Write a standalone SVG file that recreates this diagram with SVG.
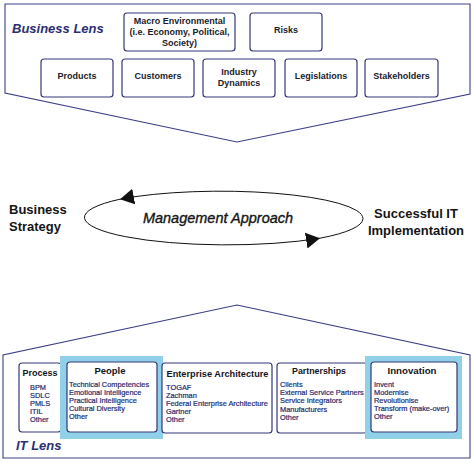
<svg xmlns="http://www.w3.org/2000/svg" width="474" height="463" viewBox="0 0 474 463">
<defs>
<style>
.lens{fill:#fff;stroke:#3b3f86;stroke-width:1.1}
.box{fill:#fff;stroke:#353877;stroke-width:1.2}
.hl{fill:#90d1e9}
.lbl{font-family:"Liberation Sans",Arial,sans-serif;font-size:9px;font-weight:bold;fill:#1b1b2a;text-anchor:middle}
.ttl{font-family:"Liberation Sans",Arial,sans-serif;font-size:9.5px;font-weight:bold;fill:#141420;text-anchor:middle}
.item{font-family:"Liberation Sans",Arial,sans-serif;font-size:7.4px;fill:#1f2a6e;stroke:#1f2a6e;stroke-width:0.2}
.lensname{font-family:"Liberation Sans",Arial,sans-serif;font-size:13px;font-weight:bold;font-style:italic;fill:#2c2f72}
.side{font-family:"Liberation Sans",Arial,sans-serif;font-size:13px;font-weight:bold;fill:#151515}
.mgmt{font-family:"Liberation Sans",Arial,sans-serif;font-size:14.5px;font-style:italic;fill:#151515;stroke:#151515;stroke-width:0.35;text-anchor:middle}
.conn{fill:none;stroke:#111;stroke-width:1}
</style>
<marker id="arr" markerUnits="userSpaceOnUse" markerWidth="15" markerHeight="17" refX="14" refY="8" orient="auto">
<path d="M0,0 L14,8 L0,16 z" fill="#111"/>
</marker>
</defs>
<rect width="474" height="463" fill="#fff"/>

<g id="business-lens">
<polygon class="lens" points="5,4 470,4 470,94 237,142 5,93"/>
<text class="lensname" x="12" y="33">Business Lens</text>
</g>

<g id="macro">
<rect class="box" x="124" y="13" width="111" height="38" rx="3"/>
<text class="lbl" x="179.5" y="24">Macro Environmental</text>
<text class="lbl" x="179.5" y="35">(i.e. Economy, Political,</text>
<text class="lbl" x="179.5" y="46">Society)</text>
</g>
<g id="risks">
<rect class="box" x="250" y="13" width="72" height="38" rx="3"/>
<text class="lbl" x="286" y="33">Risks</text>
</g>
<g id="products">
<rect class="box" x="41" y="59" width="72" height="38" rx="3"/>
<text class="lbl" x="77" y="79">Products</text>
</g>
<g id="customers">
<rect class="box" x="122" y="59" width="72" height="38" rx="3"/>
<text class="lbl" x="158" y="79">Customers</text>
</g>
<g id="industry">
<rect class="box" x="203" y="59" width="72" height="38" rx="3"/>
<text class="lbl" x="239" y="75">Industry</text>
<text class="lbl" x="239" y="86">Dynamics</text>
</g>
<g id="legislations">
<rect class="box" x="285" y="59" width="72" height="38" rx="3"/>
<text class="lbl" x="321" y="79">Legislations</text>
</g>
<g id="stakeholders">
<rect class="box" x="365" y="59" width="73" height="38" rx="3"/>
<text class="lbl" x="401.5" y="79">Stakeholders</text>
</g>

<g id="business-strategy">
<text class="side" x="9" y="214">Business</text>
<text class="side" x="9" y="231">Strategy</text>
</g>
<g id="management-approach">
<text class="mgmt" x="218" y="223">Management Approach</text>
</g>
<g id="successful-it">
<text class="side" x="416" y="218" text-anchor="middle">Successful IT</text>
<text class="side" x="416" y="235" text-anchor="middle">Implementation</text>
</g>

<g id="connectors">
<path class="conn" d="M363,218.5 A142.5,27.5 0 0,0 120,199.2" marker-end="url(#arr)"/>
<path class="conn" d="M120,199.2 A142.5,27.5 0 0,0 320,238.2" marker-end="url(#arr)"/>
<path class="conn" d="M320,238.2 A142.5,27.5 0 0,0 363,218.5"/>
</g>

<g id="it-lens">
<polygon class="lens" points="237,305 470,355 470,458 3,458 3,355"/>
<text class="lensname" x="16" y="450">IT Lens</text>
</g>

<g id="process">
<rect class="box" x="19" y="363" width="42" height="69" rx="3"/>
<text class="ttl" x="40" y="376" textLength="35" lengthAdjust="spacingAndGlyphs">Process</text>
<text class="item" x="30" y="390">BPM</text>
<text class="item" x="30" y="398">SDLC</text>
<text class="item" x="30" y="406">PMLS</text>
<text class="item" x="30" y="414">ITIL</text>
<text class="item" x="30" y="422">Other</text>
</g>
<g id="people">
<rect class="hl" x="60" y="356" width="103" height="83"/>
<rect class="box" x="67" y="362" width="90" height="70" rx="3"/>
<text class="ttl" x="110" y="374" textLength="31" lengthAdjust="spacingAndGlyphs">People</text>
<text class="item" x="69" y="386.5">Technical Competencies</text>
<text class="item" x="69" y="394.7">Emotional Intelligence</text>
<text class="item" x="69" y="402.9">Practical Intelligence</text>
<text class="item" x="69" y="411.1">Cultural Diversity</text>
<text class="item" x="69" y="419.3">Other</text>
</g>
<g id="enterprise-architecture">
<rect class="box" x="162" y="363" width="110" height="70" rx="3"/>
<text class="ttl" x="217.5" y="377" textLength="102" lengthAdjust="spacingAndGlyphs">Enterprise Architecture</text>
<text class="item" x="166" y="390">TOGAF</text>
<text class="item" x="166" y="398">Zachman</text>
<text class="item" x="166" y="406">Federal Enterprise Architecture</text>
<text class="item" x="166" y="414">Gartner</text>
<text class="item" x="166" y="422">Other</text>
</g>
<g id="partnerships">
<rect class="box" x="277" y="363" width="90" height="70" rx="3"/>
<text class="ttl" x="319" y="374" textLength="54" lengthAdjust="spacingAndGlyphs">Partnerships</text>
<text class="item" x="280" y="387">Clients</text>
<text class="item" x="280" y="395.2">External Service Partners</text>
<text class="item" x="280" y="403.4">Service Integrators</text>
<text class="item" x="280" y="411.6">Manufacturers</text>
<text class="item" x="280" y="419.8">Other</text>
</g>
<g id="innovation">
<rect class="hl" x="365" y="356" width="97" height="83"/>
<rect class="box" x="371" y="362" width="86" height="70" rx="3"/>
<text class="ttl" x="412" y="374" textLength="49" lengthAdjust="spacingAndGlyphs">Innovation</text>
<text class="item" x="374" y="386.5">Invent</text>
<text class="item" x="374" y="394.7">Modernise</text>
<text class="item" x="374" y="402.9">Revolutionise</text>
<text class="item" x="374" y="411.1">Transform (make-over)</text>
<text class="item" x="374" y="419.3">Other</text>
</g>
</svg>
